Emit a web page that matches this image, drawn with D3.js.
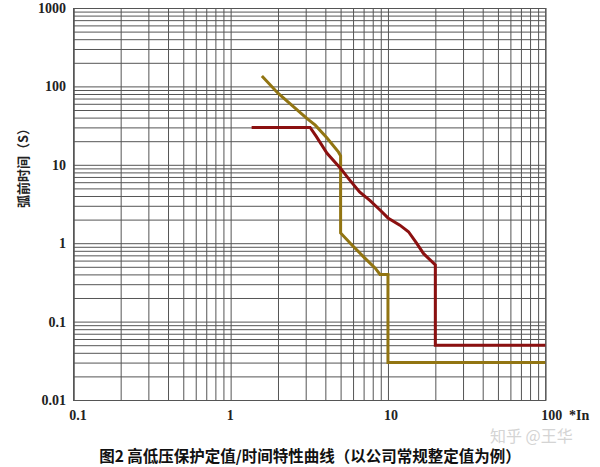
<!DOCTYPE html>
<html>
<head>
<meta charset="utf-8">
<script src="https://cdn.jsdelivr.net/npm/d3@7"></script>
<style>
  body { margin: 0; background: #fff; }
  svg { display: block; }
</style>
</head>
<body>
<div id="chart"></div>
<script>
// decades shown on the axes
const xDecades = [0.1, 1, 10, 100];
const xTickLabels = ["0.1", "1", "10", "100"];
const yDecades = [0.01, 0.1, 1, 10, 100, 1000];
const yTickLabels = ["0.01", "0.1", "1", "10", "100", "1000"];

// dark red curve (multiple of In, seconds)
const redX = [1.36, 3.2, 3.5, 4.1, 5.0, 5.6, 6.6, 7.7, 8.9, 10, 11.9, 13.5, 15.2, 16.8, 20, 20, 100];
const redY = [30, 30, 23, 14, 9, 6.7, 4.5, 3.5, 2.65, 2.1, 1.7, 1.4, 1.0, 0.74, 0.53, 0.05, 0.05];

// olive curve
const oliveX = [1.58, 2.0, 3.05, 3.45, 4.1, 4.85, 5, 5, 5.9, 7, 8.3, 8.9, 10, 10, 100];
const oliveY = [136, 82, 39, 32, 22, 14.5, 13, 1.35, 0.95, 0.67, 0.48, 0.4, 0.4, 0.03, 0.03];

const yTitle = "弧前时间（S）";
const xUnit = "*In";
const caption = "图2 高低压保护定值/时间特性曲线（以公司常规整定值为例）";
const watermark = "知乎 @王华";

const W = 600, H = 467;
const mLeft = 73.3, mRight = 545.3, mTop = 8, mBottom = 400;

const svg = d3.select("#chart").append("svg")
    .attr("width", W)
    .attr("height", H);

const x = d3.scaleLog().domain([0.1, 100]).range([mLeft, mRight]);
const y = d3.scaleLog().domain([0.01, 1000]).range([mBottom, mTop]);

// grid lines: every 1..9 step of each decade
const gx = svg.append("g")
    .attr("transform", `translate(0,${mBottom})`)
    .call(d3.axisBottom(x).tickValues(x.ticks()).tickSize(-(mBottom - mTop)).tickFormat(""));
const gy = svg.append("g")
    .attr("transform", `translate(${mLeft},0)`)
    .call(d3.axisLeft(y).tickValues(y.ticks()).tickSize(-(mRight - mLeft)).tickFormat(""));

[gx, gy].forEach(g => {
    g.select(".domain").attr("stroke", "#555").attr("stroke-width", 1.2);
    g.selectAll(".tick line").attr("stroke", "#555").attr("stroke-width", 1);
});

// decade labels
svg.append("g").selectAll("text")
    .data(xDecades)
    .enter().append("text")
        .attr("x", d => x(d) - 4)
        .attr("y", 420)
        .attr("font-family", "Liberation Serif")
        .attr("font-weight", "bold")
        .attr("font-size", 14)
        .attr("fill", "#222")
        .text((d, i) => xTickLabels[i]);

svg.append("g").selectAll("text")
    .data(yDecades)
    .enter().append("text")
        .attr("x", 66)
        .attr("y", d => y(d) + 5)
        .attr("text-anchor", "end")
        .attr("font-family", "Liberation Serif")
        .attr("font-weight", "bold")
        .attr("font-size", 14)
        .attr("fill", "#222")
        .text((d, i) => yTickLabels[i]);

svg.append("text")
    .attr("x", 569)
    .attr("y", 420)
    .attr("font-family", "Liberation Serif")
    .attr("font-weight", "bold")
    .attr("font-size", 14)
    .attr("fill", "#222")
    .text(xUnit);

svg.append("text")
    .attr("transform", "translate(28,165) rotate(-90)")
    .attr("text-anchor", "middle")
    .attr("font-family", "Noto Sans CJK SC")
    .attr("font-weight", "bold")
    .attr("font-size", 13)
    .attr("fill", "#222")
    .text(yTitle);

// curves
const line = d3.line().x(d => x(d[0])).y(d => y(d[1]));

svg.append("path")
    .datum(oliveX.map((v, i) => [v, oliveY[i]]))
    .attr("d", line)
    .attr("fill", "none")
    .attr("stroke", "#927512")
    .attr("stroke-width", 3);

svg.append("path")
    .datum(redX.map((v, i) => [v, redY[i]]))
    .attr("d", line)
    .attr("fill", "none")
    .attr("stroke", "#8b1010")
    .attr("stroke-width", 3);

svg.append("text")
    .attr("x", 490)
    .attr("y", 442)
    .attr("font-family", "Noto Sans CJK SC")
    .attr("font-size", 16)
    .attr("fill", "#d4d4d4")
    .text(watermark);

svg.append("text")
    .attr("x", 310)
    .attr("y", 462)
    .attr("text-anchor", "middle")
    .attr("font-family", "Noto Sans CJK SC")
    .attr("font-weight", "bold")
    .attr("font-size", 15.5)
    .attr("fill", "#111")
    .text(caption);
</script>
</body>
</html>
